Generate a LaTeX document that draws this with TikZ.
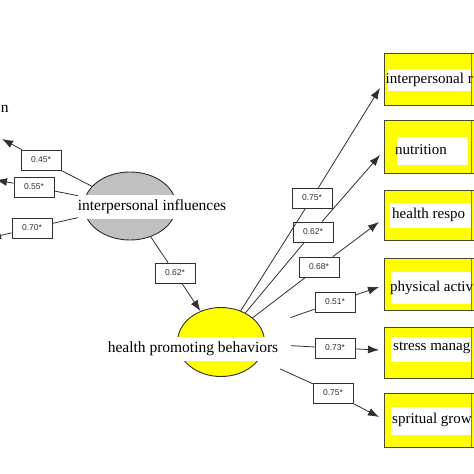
\documentclass[tikz,border=0pt]{standalone}
\usepackage{fontspec}
\setmainfont{Liberation Serif}
\newfontfamily\labfont{Liberation Sans}
\usetikzlibrary{shapes.geometric,arrows.meta,calc}
\definecolor{boxline}{HTML}{4A4A2A}
\definecolor{ink}{HTML}{303030}
\definecolor{ylw}{HTML}{FFFF00}
\definecolor{gry}{HTML}{C0C0C0}
\begin{document}
\begin{tikzpicture}[x=1pt,y=-1pt,
  coef/.style={draw=ink, fill=white, line width=0.7pt, minimum width=40pt, minimum height=20pt, inner sep=0pt, font=\labfont\fontsize{8.5}{10}\selectfont, text=ink},
  conn/.style={draw=ink, line width=0.8pt},
  arr/.style={conn, -{Latex[length=11pt,width=8pt]}},
  rbox/.style={draw=boxline, fill=ylw, line width=1pt, minimum width=110pt, minimum height=52pt, anchor=west, inner sep=0pt},
  rtext/.style={anchor=west, font=\fontsize{15}{18}\selectfont, inner sep=0pt, text=black},
  etext/.style={fill=white, font=\fontsize{15.5}{18}\selectfont, inner xsep=0pt, inner ysep=5pt, text=black},
  latent/.style={ellipse, draw=ink, line width=0.9pt, inner sep=0pt},
  inline/.style={draw=boxline!70, line width=0.6pt}
]
\useasboundingbox (0,0) rectangle (474,474);
\clip (0,0) rectangle (474,474);
\fill[white] (0,0) rectangle (474,474);

% latent variables
\node[latent, fill=gry, minimum width=92pt, minimum height=68pt] (ii) at (130,206) {};
\node[latent, fill=ylw, minimum width=87pt, minimum height=69pt] (hpb) at (221,342) {};

% right boxes
\node[rbox, minimum height=52pt] (b1) at (384,79) {};
\node[rbox, minimum height=53pt] (b2) at (384,146.5) {};
\node[rbox, minimum height=50pt] (b3) at (384,215) {};
\node[rbox, minimum height=52pt] (b4) at (384,284) {};
\node[rbox, minimum height=51pt] (b5) at (384,352.5) {};
\node[rbox, minimum height=54pt] (b6) at (384,420) {};
\fill[white] (388,69) rectangle (471,91);
\fill[white] (397,137) rectangle (468,165);
\fill[white] (390,203) rectangle (471,228);
\fill[white] (391,272) rectangle (471,304);
\fill[white] (391,337) rectangle (471,362);
\fill[white] (391,407) rectangle (471,435);
\draw[inline] (471,53.5) -- (471,104.5);
\draw[inline] (471,120.5) -- (471,172.5);
\draw[inline] (471,190.5) -- (471,239.5);
\draw[inline] (471,258.5) -- (471,309.5);
\draw[inline] (471,327.5) -- (471,377.5);
\draw[inline] (471,393.5) -- (471,446.5);
\node[rtext] (t1) at (385.5,80) {interpersonal r};
\node[rtext] (t2) at (395,150) {nutrition};
\node[rtext] (t3) at (392,215) {health respo};
\node[rtext] (t4) at (390,288) {physical activ};
\node[rtext] (t5) at (393,348) {stress manag};
\node[rtext] (t6) at (392,420) {spritual grow};

% coefficient labels
\node[coef] (l45) at (41,160) {0.45*};
\node[coef] (l55) at (34,187) {0.55*};
\node[coef] (l70) at (32,228) {0.70*};
\node[coef] (lc) at (175,273) {0.62*};
\node[coef] (r1) at (312,198) {0.75*};
\node[coef] (r2) at (313,232) {0.62*};
\node[coef] (r3) at (319,267) {0.68*};
\node[coef] (r4) at (335,302) {0.51*};
\node[coef] (r5) at (335,348) {0.73*};
\node[coef] (r6) at (333,393) {0.75*};

% free ends on the left
\coordinate (e45) at (2,139);
\coordinate (e55) at (-4,180);
\coordinate (e70) at (-10,238);

% connectors
\draw[arr] (ii) -- (l45) -- (e45);
\draw[arr] (ii) -- (l55) -- (e55);
\draw[arr] (ii) -- (l70) -- (e70);
\draw[arr] (ii) -- (lc) -- (hpb);
\draw[arr] (hpb) -- (r1) -- ($(b1.west)+(-4,9)$);
\draw[arr] (hpb) -- (r2) -- ($(b2.west)+(-4,8.5)$);
\draw[arr] (hpb) -- (r3) -- ($(b3.west)+(-5,7)$);
\draw[conn, shorten <=31pt] (hpb) -- (r4);
\draw[arr] (r4) -- ($(b4.west)+(-5,3)$);
\draw[conn, shorten <=26pt] (hpb) -- (r5);
\draw[arr] (r5) -- ($(b5.west)+(-5,-2.5)$);
\draw[conn, shorten <=23pt] (hpb) -- (r6);
\draw[arr] (r6) -- ($(b6.west)+(-5,-3)$);

% ellipse texts (white band)
\node[etext] (iit) at (152,207) {interpersonal influences};
\node[etext] (hpbt) at (193,349) {health promoting behaviors};

% text at left edge
\node[anchor=base west, font=\fontsize{15.5}{18}\selectfont, inner sep=0pt] (ntxt) at (0.8,112) {n};
\end{tikzpicture}
\end{document}
